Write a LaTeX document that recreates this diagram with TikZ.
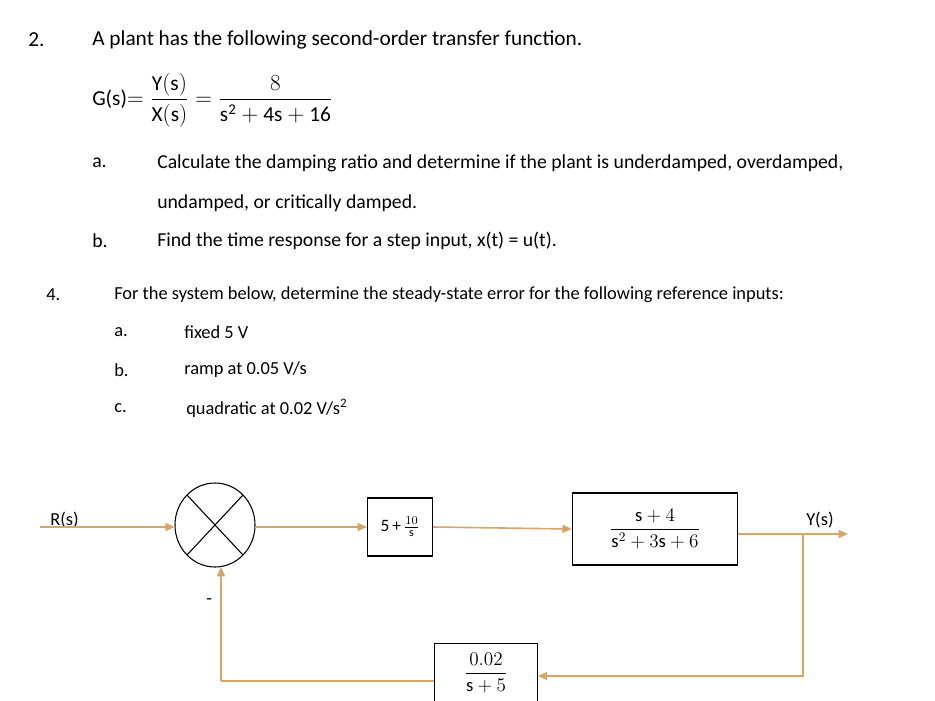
\documentclass[tikz,border=0pt]{standalone}
\usepackage{amsmath}
\usepackage{fontspec}
\setmainfont{Carlito}
\usetikzlibrary{arrows.meta}
\definecolor{tan}{HTML}{D9A566}
\begin{document}
\begin{tikzpicture}[x=0.75pt,y=-0.75pt,
  txt/.style={anchor=west,inner sep=0,font=\fontsize{13.8}{15}\selectfont},
  mid/.style={anchor=west,inner sep=0,font=\fontsize{14.8}{16}\selectfont},
  big/.style={anchor=west,inner sep=0,font=\fontsize{16}{18}\selectfont},
  blk/.style={draw,thick,inner sep=0},
  sig/.style={tan,line width=1.2pt,-{Triangle[length=7pt,width=6pt]}},
  wire/.style={tan,line width=1.2pt}]
\useasboundingbox (0,0) rectangle (935,700);
\node[big] (n2) at (28,40) {2.};
\node[big] (t1) at (92,40) {A plant has the following second-order transfer function.};
\node[big] (g) at (92,100) {G(s)$=\dfrac{\mathrm{Y(s)}}{\mathrm{X(s)}}=\dfrac{8}{\mathrm{s^2+4s+16}}$};
\node[mid] (a1) at (92,163) {a.};
\node[mid] (ta) at (157,163) {Calculate the damping ratio and determine if the plant is underdamped, overdamped,};
\node[mid] (ta2) at (157,203) {undamped, or critically damped.};
\node[mid] (b1) at (92,241) {b.};
\node[mid] (tb) at (157,241) {Find the time response for a step input, x(t) = u(t).};
\node[txt] (n4) at (46,295) {4.};
\node[txt] (t4) at (114,295) {For the system below, determine the steady-state error for the following reference inputs:};
\node[txt] (a4) at (114,332) {a.};
\node[txt] (ta4) at (184,332) {fixed 5 V};
\node[txt] (b4) at (114,370) {b.};
\node[txt] (tb4) at (184,370) {ramp at 0.05 V/s};
\node[txt] (c4) at (114,408) {c.};
\node[txt] (tc4) at (186,408) {quadratic at 0.02 V/s\textsuperscript{2}};
% block diagram
\node[txt] (rl) at (50,520) {R(s)};
\node[txt] (yl) at (806,520) {Y(s)};
\coordinate (r) at (40,527);
\draw[thick] (215,525) ellipse [x radius=40,y radius=42];
\node[minimum width=60pt,minimum height=63pt,inner sep=0] (sum) at (215,525) {};
\draw[thick] (215,525) ++(-28,-30) -- ++(56,60) (215,525) ++(28,-30) -- ++(-56,60);
\node[blk,minimum width=48.75pt,minimum height=43.5pt] (g1) at (400,527) {\fontsize{13}{15}\selectfont 5\,+\,$\frac{10}{\mathrm{s}}$};
\node[blk,minimum width=124pt,minimum height=54pt] (g2) at (655,529) {\fontsize{14}{16}\selectfont$\dfrac{\mathrm{s}+4}{\mathrm{s}^2+3\mathrm{s}+6}$};
\node[blk,minimum width=77pt,minimum height=44pt,anchor=north] (h) at (486,643) {\fontsize{14}{16}\selectfont$\dfrac{0.02}{\mathrm{s}+5}$};
\node[txt] (minus) at (206,602) {-};
\coordinate (y) at (848,534);
\coordinate (br) at (803,534);
\coordinate (c1) at (803,676);
\coordinate (c2) at (221,681);
\draw[sig] (r) -- (sum.west|-r);
\draw[sig] (sum.east|-r) -- (g1.west|-r);
\draw[sig] (g1.east) -- (g2.west);
\draw[sig] (g2.east|-y) -- (y);
\draw[sig] (br) -- (c1) -- (h.east|-c1);
\draw[wire] (h.west|-c2) -- (c2);
\draw[sig] (c2) -- (221,567);
\end{tikzpicture}
\end{document}
